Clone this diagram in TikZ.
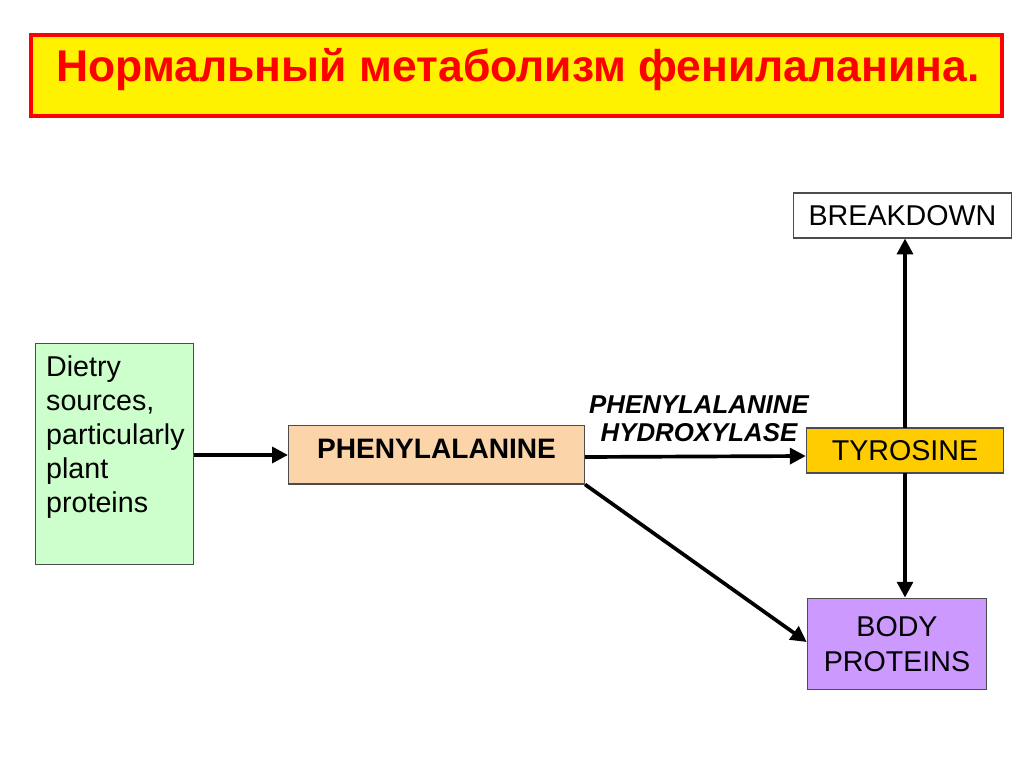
\documentclass[tikz,border=0pt]{standalone}
\usepackage{fontspec}
\setmainfont{Liberation Sans}
\usetikzlibrary{arrows.meta}
\begin{document}
\begin{tikzpicture}[x=0.02cm,y=-0.02cm,
  box/.style={draw=black!70,line width=0.7pt,inner sep=0pt},
  arr/.style={line width=2.1pt,-{Triangle[length=9pt,width=9pt]}},
  lab/.style={font=\fontsize{16.3pt}{19.3pt}\selectfont}]
\useasboundingbox (0,0) rectangle (1024,767);
\fill[white] (0,0) rectangle (1024,767);
\draw[red,line width=2.4pt,fill=yellow] (31,35) rectangle (1002,116);
\node[text=red,font=\bfseries\fontsize{25.3pt}{30pt}\selectfont] (tt) at (518,70) {Нормальный метаболизм фенилаланина.};
\node[box,fill={rgb,255:red,204;green,255;blue,204},minimum width=159*0.567pt,minimum height=222*0.567pt] (diet) at (114.5,454) {};
\node[lab,align=left,anchor=north west] (dt) at (40,350) {Dietry\\sources,\\particularly\\plant\\proteins};
\node[box,fill={rgb,255:red,251;green,212;blue,170},minimum width=297*0.567pt,minimum height=59*0.567pt,font=\bfseries\fontsize{16pt}{19pt}\selectfont] (phe) at (436.5,454.5) {\raisebox{7pt}{PHENYLALANINE}};
\node[box,fill={rgb,255:red,255;green,204;blue,0},minimum width=198*0.567pt,minimum height=45*0.567pt,lab] (tyr) at (905,450.5) {TYROSINE};
\node[box,fill=white,minimum width=219*0.567pt,minimum height=45*0.567pt,lab] (brk) at (902.5,215.5) {BREAKDOWN};
\node[box,fill={rgb,255:red,204;green,153;blue,255},minimum width=180*0.567pt,minimum height=92*0.567pt,font=\fontsize{16.3pt}{20pt}\selectfont,align=center] (bp) at (897,644) {BODY\\PROTEINS};
\node[font=\bfseries\itshape\fontsize{14.7pt}{16pt}\selectfont,align=center] (enz) at (699,419) {PHENYLALANINE\\HYDROXYLASE};
\draw[arr] (diet.east|-0,455) -- (phe.west|-0,455);
\draw[arr] (phe.east|-0,457) -- (tyr.west|-0,456);
\draw[arr] (phe.south east) -- (bp.west|-0,642);
\draw[arr] (905,428) -- (brk.south-|905,0);
\draw[arr] (905,473) -- (bp.north-|905,0);
\end{tikzpicture}
\end{document}
